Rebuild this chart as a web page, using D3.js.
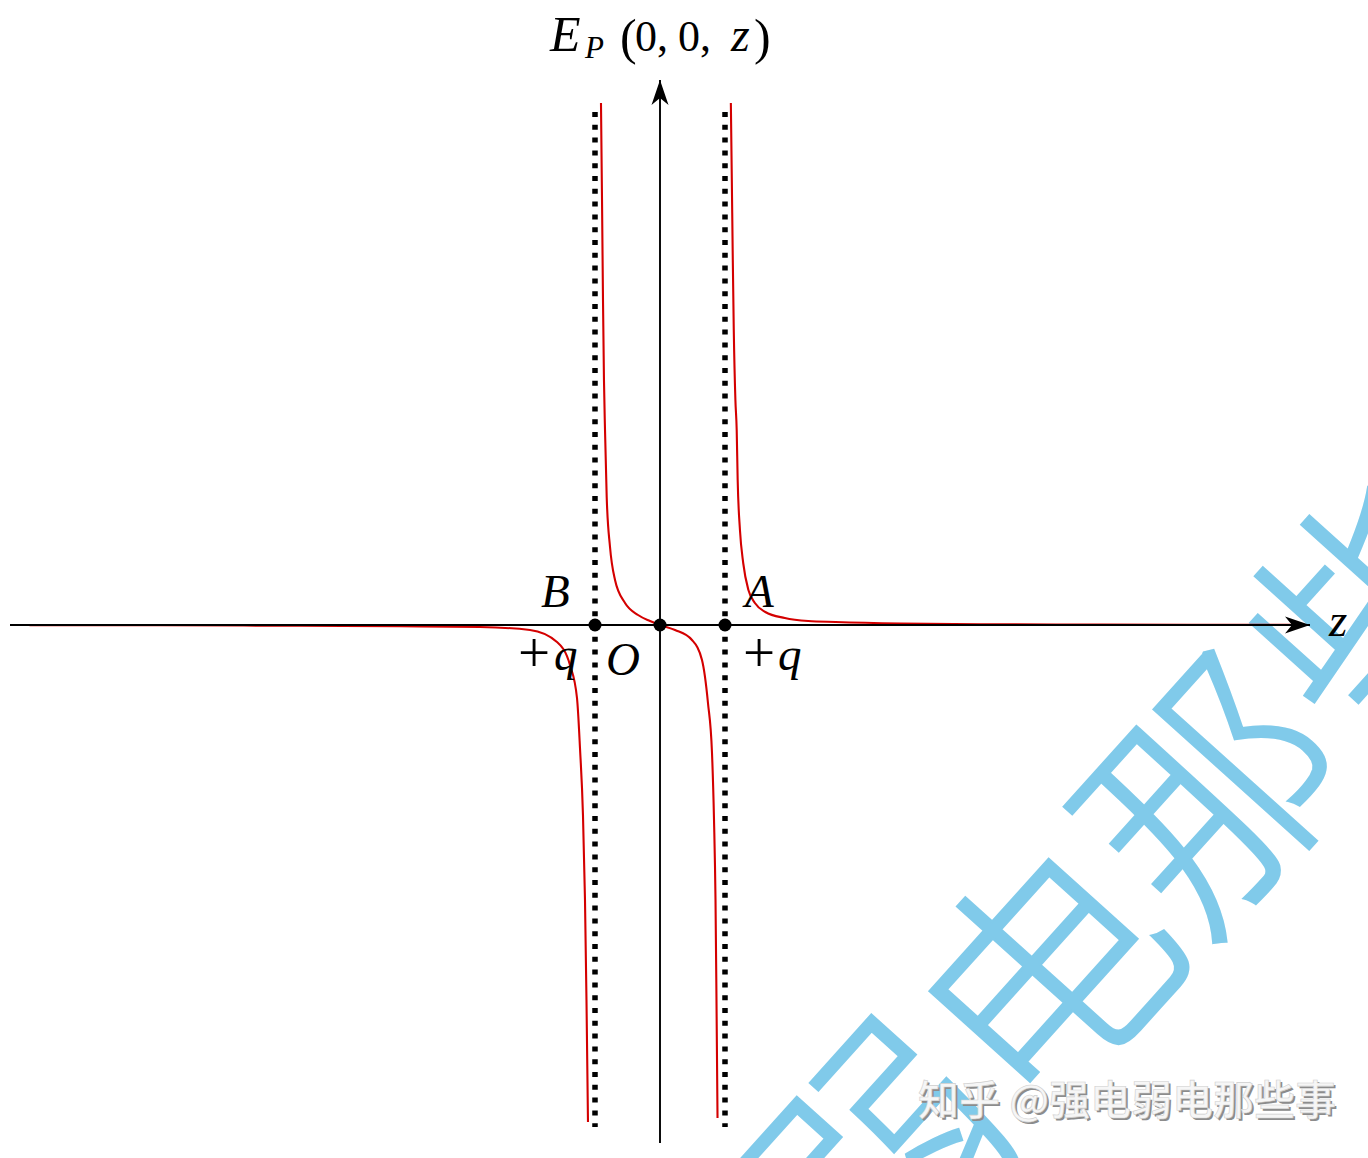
<!DOCTYPE html>
<html>
<head>
<meta charset="utf-8">
<script src="https://cdn.jsdelivr.net/npm/d3@7"></script>
<style>
  html, body { margin: 0; padding: 0; background: #ffffff; }
  svg { display: block; }
</style>
</head>
<body>
<svg id="chart" width="1368" height="1158"></svg>
<script>
// ---- data (z in units of a, E in arbitrary field units) ----
const zDomain = [-10, 10];
const eDomain = [-103.6, 109];

// branch z > a (right of A)
const rightZ = [1.09, 1.105, 1.12, 1.135, 1.16, 1.18, 1.195, 1.23, 1.28, 1.36, 1.46, 1.62, 1.92, 2.28, 2.7, 3.7, 5.2, 6.8, 9.7];
const rightE = [104.4, 89, 73, 59, 45, 39, 29, 19, 12.4, 7, 4.4, 2.6, 1.4, 0.8, 0.6, 0.3, 0.14, 0.08, 0.04];

// branch -a < z < a (between B and A)
const middleZ = [-0.908, -0.892, -0.877, -0.862, -0.846, -0.82, -0.769, -0.692, -0.538, -0.338, -0.154, 0, 0.231, 0.492, 0.646, 0.738, 0.8, 0.831, 0.854, 0.869, 0.885];
const middleE = [104.4, 85, 65, 49, 39, 25.6, 15.6, 9, 4.4, 2, 0.8, 0, -1, -3, -7, -15.6, -25.6, -39, -55, -75, -98.6];

// branch z < -a (left of B)
const leftZ = [-9.7, -7.69, -5.54, -4.0, -2.77, -2.0, -1.585, -1.385, -1.277, -1.231, -1.185, -1.154, -1.131, -1.108];
const leftE = [-0.04, -0.06, -0.16, -0.26, -0.4, -1, -3.4, -8, -14.6, -24.6, -38, -55, -75, -99.4];

// marked points on the axis and the asymptotes
const pointZ = [-1, 0, 1];
const asymptoteZ = [-1, 1];
const asymptoteE = [-100.4, 102.6];

const watermarkText = "强电弱电那些事";
const creditText = "知乎 @强电弱电那些事";

// ---- scales ----
const svg = d3.select("#chart");
const x = d3.scaleLinear().domain(zDomain).range([10, 1310]);
const y = d3.scaleLinear().domain(eDomain).range([1143, 80]);

const defs = svg.append("defs");
defs.append("marker")
  .attr("id", "arrow")
  .attr("viewBox", "0 -10 26 20")
  .attr("markerUnits", "userSpaceOnUse")
  .attr("markerWidth", 26).attr("markerHeight", 20)
  .attr("refX", 25).attr("refY", 0)
  .attr("orient", "auto")
  .append("path")
  .attr("d", "M0,-8.5 L25,0 L0,8.5 L7,0 Z")
  .attr("fill", "#000");

// ---- big diagonal watermark (beneath) ----
svg.append("text")
  .attr("transform", "translate(1036,966) rotate(-48)")
  .attr("text-anchor", "middle")
  .attr("dominant-baseline", "central")
  .attr("font-family", "'Noto Sans CJK SC'")
  .attr("font-weight", 300)
  .attr("font-size", 246)
  .attr("fill", "#80caea")
  .attr("stroke", "#80caea")
  .attr("stroke-width", 2.5)
  .attr("stroke-linejoin", "miter")
  .text(watermarkText);

// ---- asymptotes (dotted) ----
svg.selectAll("line.asym").data(asymptoteZ).enter().append("line")
  .attr("class", "asym")
  .attr("x1", d => x(d)).attr("x2", d => x(d))
  .attr("y1", y(asymptoteE[1])).attr("y2", y(asymptoteE[0]))
  .attr("stroke", "#000").attr("stroke-width", 5.5)
  .attr("stroke-dasharray", "5 7.8");

// ---- curve ----
const line = d3.line().x(d => x(d[0])).y(d => y(d[1])).curve(d3.curveMonotoneX);
const branches = [
  d3.zip(leftZ, leftE),
  d3.zip(middleZ, middleE),
  d3.zip(rightZ, rightE)
];
svg.selectAll("path.branch").data(branches).enter().append("path")
  .attr("class", "branch")
  .attr("d", line)
  .attr("fill", "none")
  .attr("stroke", "#d40000")
  .attr("stroke-width", 2.1);

// ---- axes (on top of the curve) ----
const xAxis = d3.axisBottom(x).ticks(0).tickSize(0).tickSizeOuter(0);
const gx = svg.append("g").attr("transform", `translate(0,${y(0)})`).call(xAxis);
gx.selectAll("text").remove();
gx.select(".domain").attr("stroke", "#000").attr("stroke-width", 1.9)
  .attr("d", `M${x(zDomain[0])},0H${x(zDomain[1])}`)
  .attr("marker-end", "url(#arrow)");

const yAxis = d3.axisLeft(y).ticks(0).tickSize(0).tickSizeOuter(0);
const gy = svg.append("g").attr("transform", `translate(${x(0)},0)`).call(yAxis);
gy.selectAll("text").remove();
gy.select(".domain").attr("stroke", "#000").attr("stroke-width", 1.9)
  .attr("d", `M0,${y(eDomain[0])}V${y(eDomain[1])}`)
  .attr("marker-end", "url(#arrow)");

// ---- points ----
svg.selectAll("circle.pt").data(pointZ).enter().append("circle")
  .attr("class", "pt")
  .attr("cx", d => x(d)).attr("cy", y(0)).attr("r", 6.5)
  .attr("fill", "#000");

// ---- labels ----
const serif = "'Liberation Serif', 'Times New Roman', serif";
const title = svg.append("text").attr("font-family", serif).attr("font-size", 44).attr("fill", "#000");
title.append("tspan").attr("x", 550).attr("y", 51).attr("font-style", "italic").attr("font-size", 50).text("E");
title.append("tspan").attr("x", 585).attr("y", 58).attr("font-style", "italic").attr("font-size", 31).text("P");
title.append("tspan").attr("x", 620).attr("y", 54).attr("font-size", 50).text("(");
title.append("tspan").attr("x", 635).attr("y", 51).text("0,");
title.append("tspan").attr("x", 678).attr("y", 51).text("0,");
title.append("tspan").attr("x", 731).attr("y", 51).attr("font-style", "italic").attr("font-size", 48).text("z");
title.append("tspan").attr("x", 754).attr("y", 54).attr("font-size", 50).text(")");

const labels = [
  { t: "B", x: 541, y: 607 },
  { t: "A", x: 745, y: 607 },
  { t: "O", x: 606, y: 675 },
  { t: "z", x: 1329, y: 636 }
];
svg.selectAll("text.lbl").data(labels).enter().append("text")
  .attr("class", "lbl")
  .attr("x", d => d.x).attr("y", d => d.y)
  .attr("font-family", serif).attr("font-size", 47)
  .attr("font-style", "italic")
  .text(d => d.t);

[[518, 554], [743, 778]].forEach(p => {
  const t = svg.append("text").attr("font-family", serif);
  t.append("tspan").attr("x", p[0]).attr("y", 672).attr("font-size", 57).text("+");
  t.append("tspan").attr("x", p[1]).attr("y", 670).attr("font-size", 47).attr("font-style", "italic").text("q");
});

// ---- credit watermark ----
svg.append("text")
  .attr("x", 920).attr("y", 1117)
  .attr("font-family", "'Noto Sans CJK SC'").attr("font-size", 41).attr("font-weight", 500)
  .attr("fill", "#8c8c8c")
  .text(creditText);
svg.append("text")
  .attr("x", 918).attr("y", 1115)
  .attr("font-family", "'Noto Sans CJK SC'").attr("font-size", 41).attr("font-weight", 500)
  .attr("fill", "#f6f6f6").attr("stroke", "#cfcfcf").attr("stroke-width", 0.6)
  .text(creditText);
</script>
</body>
</html>
